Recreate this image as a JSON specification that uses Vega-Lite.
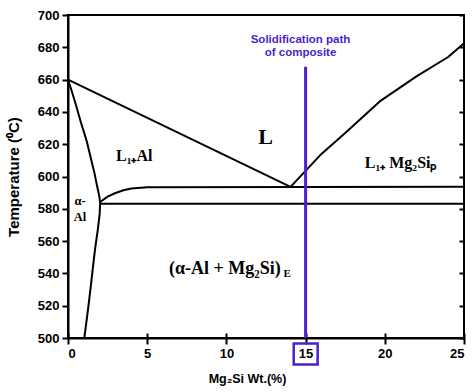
{
  "$schema": "https://vega.github.io/schema/vega-lite/v6.json",
  "width": 396,
  "height": 323,
  "autosize": "none",
  "padding": {"left": 68, "top": 15, "right": 10, "bottom": 54},
  "background": "white",
  "config": {
    "view": {"stroke": "black", "strokeWidth": 2},
    "axis": {
      "domainColor": "black",
      "domainWidth": 2,
      "tickColor": "black",
      "tickWidth": 2,
      "tickSize": 6,
      "gridColor": "black",
      "gridWidth": 2,
      "gridOpacity": 1,
      "labelFont": "Liberation Sans",
      "labelFontWeight": "bold",
      "labelFontSize": 13,
      "labelColor": "black",
      "titleFont": "Liberation Sans",
      "titleFontWeight": "bold",
      "titleColor": "black"
    }
  },
  "datasets": {
    "curves": [
      {"curve": "A", "o": 0, "x": 0, "T": 660},
      {"curve": "A", "o": 1, "x": 14.05, "T": 593.6},
      {"curve": "B", "o": 0, "x": 14.05, "T": 593.6},
      {"curve": "B", "o": 1, "x": 16, "T": 614},
      {"curve": "B", "o": 2, "x": 17.5, "T": 627},
      {"curve": "B", "o": 3, "x": 19.75, "T": 647},
      {"curve": "B", "o": 4, "x": 22, "T": 662},
      {"curve": "B", "o": 5, "x": 24, "T": 674},
      {"curve": "B", "o": 6, "x": 25, "T": 682.5},
      {"curve": "C", "o": 0, "x": 2.03, "T": 584.2},
      {"curve": "C", "o": 1, "x": 2.5, "T": 587.5},
      {"curve": "C", "o": 2, "x": 3, "T": 589.8},
      {"curve": "C", "o": 3, "x": 3.5, "T": 591.5},
      {"curve": "C", "o": 4, "x": 4, "T": 592.6},
      {"curve": "C", "o": 5, "x": 5, "T": 593.4},
      {"curve": "C", "o": 6, "x": 25, "T": 593.6},
      {"curve": "D", "o": 0, "x": 2.03, "T": 583.2},
      {"curve": "D", "o": 1, "x": 25, "T": 583.2},
      {"curve": "E", "o": 0, "x": 0, "T": 660},
      {"curve": "E", "o": 1, "x": 0.2, "T": 654},
      {"curve": "E", "o": 2, "x": 0.45, "T": 646},
      {"curve": "E", "o": 3, "x": 0.8, "T": 634},
      {"curve": "E", "o": 4, "x": 1.18, "T": 622},
      {"curve": "E", "o": 5, "x": 1.45, "T": 611},
      {"curve": "E", "o": 6, "x": 1.65, "T": 603},
      {"curve": "E", "o": 7, "x": 1.85, "T": 593.5},
      {"curve": "E", "o": 8, "x": 1.97, "T": 588},
      {"curve": "E", "o": 9, "x": 2.03, "T": 584},
      {"curve": "E", "o": 10, "x": 2.0, "T": 577},
      {"curve": "E", "o": 11, "x": 1.88, "T": 567},
      {"curve": "E", "o": 12, "x": 1.72, "T": 556},
      {"curve": "E", "o": 13, "x": 1.6, "T": 546},
      {"curve": "E", "o": 14, "x": 1.45, "T": 533},
      {"curve": "E", "o": 15, "x": 1.28, "T": 519},
      {"curve": "E", "o": 16, "x": 1.15, "T": 509},
      {"curve": "E", "o": 17, "x": 1.03, "T": 500}
    ]
  },
  "resolve": {"axis": {"x": "independent", "y": "independent"}},
  "layer": [
    {
      "data": {"name": "curves"},
      "mark": {"type": "line", "color": "black", "strokeWidth": 2, "strokeJoin": "round"},
      "encoding": {
        "x": {
          "field": "x", "type": "quantitative",
          "scale": {"domain": [0, 25], "nice": false, "zero": false},
          "axis": {"values": [0, 5, 10, 15, 20, 25], "grid": true, "gridDash": [0, 318, 5, 100], "title": "Mg₂Si Wt.(%)", "titleFontSize": 12.5, "titlePadding": 12, "titleX": 179, "labelPadding": 3}
        },
        "y": {
          "field": "T", "type": "quantitative",
          "scale": {"domain": [500, 700], "nice": false, "zero": false},
          "axis": {"values": [500, 520, 540, 560, 580, 600, 620, 640, 660, 680, 700], "grid": true, "gridDash": [0, 391, 5, 100], "title": "Temperature (⁰C)", "titleFontSize": 15, "titlePadding": 16, "labelPadding": 3}
        },
        "detail": {"field": "curve"},
        "order": {"field": "o", "type": "quantitative"}
      }
    },
    {
      "data": {"values": [{"x": 15, "T0": 500, "T1": 668}]},
      "mark": {"type": "rule", "color": "#4b1fcf", "strokeWidth": 3},
      "encoding": {
        "x": {"field": "x", "type": "quantitative", "axis": null},
        "y": {"field": "T0", "type": "quantitative", "axis": null},
        "y2": {"field": "T1"}
      }
    },
    {
      "data": {"values": [{"x0": 14.25, "x1": 15.76, "T0": 496.6, "T1": 483.6}]},
      "mark": {"type": "rect", "fill": null, "fillOpacity": 0, "stroke": "#4b1fcf", "strokeWidth": 2.5},
      "encoding": {
        "x": {"field": "x0", "type": "quantitative", "axis": null},
        "x2": {"field": "x1"},
        "y": {"field": "T0", "type": "quantitative", "axis": null},
        "y2": {"field": "T1"}
      }
    },
    {
      "data": {"values": [{"label": "Solidification path", "x": 14.68, "T": 684.5}, {"label": "of composite", "x": 14.68, "T": 676.4}]},
      "mark": {"type": "text", "color": "#4b1fcf", "font": "Liberation Sans", "fontWeight": "bold", "fontSize": 11.5, "align": "center", "baseline": "middle"},
      "encoding": {
        "x": {"field": "x", "type": "quantitative", "axis": null},
        "y": {"field": "T", "type": "quantitative", "axis": null},
        "text": {"field": "label"}
      }
    },
    {
      "data": {"values": [{"label": "L", "x": 12.47, "T": 624.3}]},
      "mark": {"type": "text", "color": "black", "font": "Liberation Serif", "fontWeight": "bold", "fontSize": 22, "align": "center", "baseline": "middle"},
      "encoding": {
        "x": {"field": "x", "type": "quantitative", "axis": null},
        "y": {"field": "T", "type": "quantitative", "axis": null},
        "text": {"field": "label"}
      }
    },
    {
      "data": {"values": [{"label": "L₁₊Al", "x": 4.18, "T": 613}, {"label": "L₁₊ Mg₂Siₚ", "x": 21.0, "T": 608.5}]},
      "mark": {"type": "text", "color": "black", "font": "Liberation Serif", "fontWeight": "bold", "fontSize": 16, "align": "center", "baseline": "middle"},
      "encoding": {
        "x": {"field": "x", "type": "quantitative", "axis": null},
        "y": {"field": "T", "type": "quantitative", "axis": null},
        "text": {"field": "label"}
      }
    },
    {
      "data": {"values": [{"label": "(α-Al + Mg₂Si)", "x": 9.9, "T": 543}]},
      "mark": {"type": "text", "color": "black", "font": "Liberation Serif", "fontWeight": "bold", "fontSize": 18, "align": "center", "baseline": "middle"},
      "encoding": {
        "x": {"field": "x", "type": "quantitative", "axis": null},
        "y": {"field": "T", "type": "quantitative", "axis": null},
        "text": {"field": "label"}
      }
    },
    {
      "data": {"values": [{"label": "E", "x": 13.84, "T": 539.8}]},
      "mark": {"type": "text", "color": "black", "font": "Liberation Serif", "fontWeight": "bold", "fontSize": 11, "align": "center", "baseline": "middle"},
      "encoding": {
        "x": {"field": "x", "type": "quantitative", "axis": null},
        "y": {"field": "T", "type": "quantitative", "axis": null},
        "text": {"field": "label"}
      }
    },
    {
      "data": {"values": [{"label": "α-", "x": 0.76, "T": 584.8}, {"label": "Al", "x": 0.76, "T": 575}]},
      "mark": {"type": "text", "color": "black", "font": "Liberation Serif", "fontWeight": "bold", "fontSize": 12.5, "align": "center", "baseline": "middle"},
      "encoding": {
        "x": {"field": "x", "type": "quantitative", "axis": null},
        "y": {"field": "T", "type": "quantitative", "axis": null},
        "text": {"field": "label"}
      }
    }
  ]
}
